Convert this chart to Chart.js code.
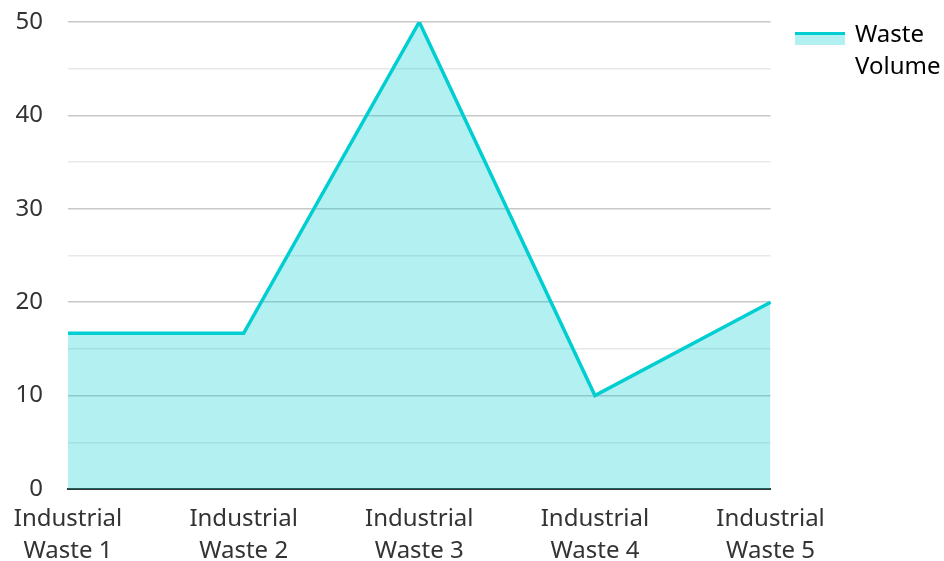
<!DOCTYPE html>
<html>
<head>
<meta charset="utf-8">
<script src="https://cdn.jsdelivr.net/npm/chart.js@4"></script>
<style>
html,body{margin:0;padding:0;background:#fff;}
#wrap{width:944px;height:561px;position:relative;}
</style>
</head>
<body>
<div id="wrap"><canvas id="c" width="944" height="561"></canvas></div>
<script>
const categories = [["Industrial", "Waste 1"], ["Industrial", "Waste 2"], ["Industrial", "Waste 3"], ["Industrial", "Waste 4"], ["Industrial", "Waste 5"]];
const wasteVolume = [16.67, 16.67, 50, 10, 20];
const seriesName = ["Waste", "Volume"];
const yTicks = [0, 10, 20, 30, 40, 50];

const lineColor = '#00CED1';
const fillColor = 'rgba(0,206,209,0.3)';
const textColor = '#333';
const FONT = "'Noto Sans', sans-serif";

new Chart(document.getElementById('c'), {
  type: 'line',
  data: {
    labels: categories,
    datasets: [{
      label: seriesName.join(' '),
      data: wasteVolume,
      borderColor: lineColor,
      backgroundColor: fillColor,
      borderWidth: 3.5,
      fill: 'origin',
      pointRadius: 0,
      tension: 0
    }]
  },
  options: {
    responsive: false,
    animation: false,
    layout: { padding: { top: 0, right: 6, left: 0, bottom: 0 } },
    plugins: {
      tooltip: { enabled: false },
      legend: {
        position: 'right',
        align: 'start',
        labels: {
          boxWidth: 50,
          boxHeight: 13,
          padding: 10,
          color: textColor,
          font: { family: FONT, size: 24, lineHeight: 1.33 },
          generateLabels: (chart) => [{
            text: seriesName,
            fillStyle: 'rgba(0,0,0,0)',
            strokeStyle: 'rgba(0,0,0,0)',
            lineWidth: 0,
            hidden: false,
            datasetIndex: 0
          }]
        }
      }
    },
    scales: {
      x: {
        offset: false,
        grid: { display: false, drawTicks: false },
        border: { display: true, color: '#333', width: 2 },
        ticks: {
          color: textColor,
          padding: 14,
          maxRotation: 0,
          autoSkip: false,
          font: { family: FONT, size: 24, lineHeight: 1.33 }
        },
        afterFit: (s) => { s.height = 72; s.paddingLeft = 68; }
      },
      y: {
        min: 0,
        max: 50,
        grid: {
          drawTicks: true,
          tickLength: 17,
          tickColor: 'rgba(0,0,0,0)',
          color: (ctx) => (ctx.tick && yTicks.includes(ctx.tick.value)) ? '#c8c8c8' : '#e8e8e8',
          lineWidth: 1.5
        },
        border: { display: false },
        ticks: {
          stepSize: 5,
          color: textColor,
          padding: 8,
          font: { family: FONT, size: 24 },
          callback: (v) => yTicks.includes(v) ? String(v) : ''
        },
        afterFit: (s) => { s.paddingTop = 22; }
      }
    }
  },
  plugins: [{
    id: 'legendShift',
    afterLayout(chart) {
      const lg = chart.legend;
      if (!lg) return;
      const dx = 793 - (lg.left + 10);
      const dy = 13;
      lg.left += dx; lg.right += dx;
      lg.top += dy; lg.bottom += dy;
      if (lg.legendHitBoxes) lg.legendHitBoxes.forEach(h => { h.left += dx; h.top += dy; });
    },
    afterDraw(chart) {
      const lg = chart.legend;
      if (!lg || !lg.legendHitBoxes || !lg.legendHitBoxes.length) return;
      const ctx = chart.ctx;
      ctx.save();
      ctx.fillStyle = fillColor;
      ctx.fillRect(795, 32, 50, 13);
      ctx.fillStyle = lineColor;
      ctx.fillRect(795, 32, 50, 3);
      ctx.restore();
    }
  }]
});
</script>
</body>
</html>
